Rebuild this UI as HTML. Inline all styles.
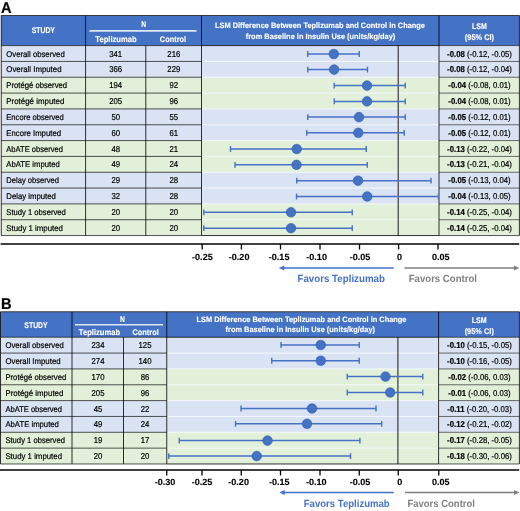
<!DOCTYPE html>
<html lang="en"><head><meta charset="utf-8"><title>Forest plot</title>
<style>
html,body{margin:0;padding:0;background:#fff;}
svg{display:block;font-family:"Liberation Sans", sans-serif;}
text{font-family:"Liberation Sans", sans-serif;}
</style></head>
<body>
<svg width="520" height="511" viewBox="0 0 520 511">
<rect x="0" y="0" width="520" height="511" fill="#ffffff"/>
<rect x="1.25" y="15.50" width="518.15" height="30.10" fill="#4472C4"/>
<rect x="1.25" y="45.60" width="518.15" height="15.88" fill="#DAE3F3"/>
<rect x="1.25" y="61.43" width="518.15" height="15.88" fill="#DAE3F3"/>
<rect x="1.25" y="77.26" width="518.15" height="15.88" fill="#E2F0D9"/>
<rect x="1.25" y="93.09" width="518.15" height="15.88" fill="#E2F0D9"/>
<rect x="1.25" y="108.92" width="518.15" height="15.88" fill="#DAE3F3"/>
<rect x="1.25" y="124.75" width="518.15" height="15.88" fill="#DAE3F3"/>
<rect x="1.25" y="140.58" width="518.15" height="15.88" fill="#E2F0D9"/>
<rect x="1.25" y="156.41" width="518.15" height="15.88" fill="#E2F0D9"/>
<rect x="1.25" y="172.24" width="518.15" height="15.88" fill="#DAE3F3"/>
<rect x="1.25" y="188.07" width="518.15" height="15.88" fill="#DAE3F3"/>
<rect x="1.25" y="203.90" width="518.15" height="15.88" fill="#E2F0D9"/>
<rect x="1.25" y="219.73" width="518.15" height="15.88" fill="#E2F0D9"/>
<line x1="201.50" y1="61.43" x2="439.00" y2="61.43" stroke="#f4f7fb" stroke-width="1.0"/>
<line x1="201.50" y1="77.26" x2="439.00" y2="77.26" stroke="#f4f7fb" stroke-width="1.0"/>
<line x1="201.50" y1="93.09" x2="439.00" y2="93.09" stroke="#f4f7fb" stroke-width="1.0"/>
<line x1="201.50" y1="108.92" x2="439.00" y2="108.92" stroke="#f4f7fb" stroke-width="1.0"/>
<line x1="201.50" y1="124.75" x2="439.00" y2="124.75" stroke="#f4f7fb" stroke-width="1.0"/>
<line x1="201.50" y1="140.58" x2="439.00" y2="140.58" stroke="#f4f7fb" stroke-width="1.0"/>
<line x1="201.50" y1="156.41" x2="439.00" y2="156.41" stroke="#f4f7fb" stroke-width="1.0"/>
<line x1="201.50" y1="172.24" x2="439.00" y2="172.24" stroke="#f4f7fb" stroke-width="1.0"/>
<line x1="201.50" y1="188.07" x2="439.00" y2="188.07" stroke="#f4f7fb" stroke-width="1.0"/>
<line x1="201.50" y1="203.90" x2="439.00" y2="203.90" stroke="#f4f7fb" stroke-width="1.0"/>
<line x1="201.50" y1="219.73" x2="439.00" y2="219.73" stroke="#f4f7fb" stroke-width="1.0"/>
<line x1="398.20" y1="45.60" x2="398.20" y2="235.56" stroke="#2b2b2b" stroke-width="1.1"/>
<line x1="1.25" y1="45.60" x2="201.50" y2="45.60" stroke="#000" stroke-width="0.85" stroke-opacity="0.8"/>
<line x1="439.00" y1="45.60" x2="519.40" y2="45.60" stroke="#000" stroke-width="0.8" stroke-opacity="0.8"/>
<line x1="1.25" y1="61.43" x2="201.50" y2="61.43" stroke="#000" stroke-width="0.85" stroke-opacity="0.8"/>
<line x1="439.00" y1="61.43" x2="519.40" y2="61.43" stroke="#444" stroke-width="0.8"/>
<line x1="1.25" y1="77.26" x2="201.50" y2="77.26" stroke="#000" stroke-width="0.85" stroke-opacity="0.8"/>
<line x1="439.00" y1="77.26" x2="519.40" y2="77.26" stroke="#444" stroke-width="0.8"/>
<line x1="1.25" y1="93.09" x2="201.50" y2="93.09" stroke="#000" stroke-width="0.85" stroke-opacity="0.8"/>
<line x1="439.00" y1="93.09" x2="519.40" y2="93.09" stroke="#444" stroke-width="0.8"/>
<line x1="1.25" y1="108.92" x2="201.50" y2="108.92" stroke="#000" stroke-width="0.85" stroke-opacity="0.8"/>
<line x1="439.00" y1="108.92" x2="519.40" y2="108.92" stroke="#444" stroke-width="0.8"/>
<line x1="1.25" y1="124.75" x2="201.50" y2="124.75" stroke="#000" stroke-width="0.85" stroke-opacity="0.8"/>
<line x1="439.00" y1="124.75" x2="519.40" y2="124.75" stroke="#444" stroke-width="0.8"/>
<line x1="1.25" y1="140.58" x2="201.50" y2="140.58" stroke="#000" stroke-width="0.85" stroke-opacity="0.8"/>
<line x1="439.00" y1="140.58" x2="519.40" y2="140.58" stroke="#444" stroke-width="0.8"/>
<line x1="1.25" y1="156.41" x2="201.50" y2="156.41" stroke="#000" stroke-width="0.85" stroke-opacity="0.8"/>
<line x1="439.00" y1="156.41" x2="519.40" y2="156.41" stroke="#444" stroke-width="0.8"/>
<line x1="1.25" y1="172.24" x2="201.50" y2="172.24" stroke="#000" stroke-width="0.85" stroke-opacity="0.8"/>
<line x1="439.00" y1="172.24" x2="519.40" y2="172.24" stroke="#444" stroke-width="0.8"/>
<line x1="1.25" y1="188.07" x2="201.50" y2="188.07" stroke="#000" stroke-width="0.85" stroke-opacity="0.8"/>
<line x1="439.00" y1="188.07" x2="519.40" y2="188.07" stroke="#444" stroke-width="0.8"/>
<line x1="1.25" y1="203.90" x2="201.50" y2="203.90" stroke="#000" stroke-width="0.85" stroke-opacity="0.8"/>
<line x1="439.00" y1="203.90" x2="519.40" y2="203.90" stroke="#444" stroke-width="0.8"/>
<line x1="1.25" y1="219.73" x2="201.50" y2="219.73" stroke="#000" stroke-width="0.85" stroke-opacity="0.8"/>
<line x1="439.00" y1="219.73" x2="519.40" y2="219.73" stroke="#444" stroke-width="0.8"/>
<line x1="1.25" y1="235.56" x2="201.50" y2="235.56" stroke="#000" stroke-width="0.85" stroke-opacity="0.8"/>
<line x1="439.00" y1="235.56" x2="519.40" y2="235.56" stroke="#000" stroke-width="0.8" stroke-opacity="0.8"/>
<line x1="201.50" y1="45.60" x2="439.00" y2="45.60" stroke="#000" stroke-width="1.0" stroke-opacity="0.8"/>
<line x1="201.50" y1="235.56" x2="439.00" y2="235.56" stroke="#000" stroke-width="1.0" stroke-opacity="0.8"/>
<line x1="1.25" y1="15.50" x2="519.40" y2="15.50" stroke="#3a3a3a" stroke-width="1.0"/>
<line x1="1.25" y1="15.50" x2="1.25" y2="235.56" stroke="#000" stroke-width="1.0" stroke-opacity="0.8"/>
<line x1="85.60" y1="15.50" x2="85.60" y2="235.56" stroke="#000" stroke-width="1.0" stroke-opacity="0.8"/>
<line x1="201.50" y1="15.50" x2="201.50" y2="235.56" stroke="#000" stroke-width="1.0" stroke-opacity="0.8"/>
<line x1="439.00" y1="15.50" x2="439.00" y2="235.56" stroke="#000" stroke-width="1.0" stroke-opacity="0.8"/>
<line x1="519.40" y1="15.50" x2="519.40" y2="235.56" stroke="#000" stroke-width="1.0" stroke-opacity="0.8"/>
<line x1="145.80" y1="45.60" x2="145.80" y2="235.56" stroke="#000" stroke-width="1.0" stroke-opacity="0.8"/>
<line x1="89.40" y1="30.90" x2="196.50" y2="30.90" stroke="#dfe7f5" stroke-width="1.8"/>
<text transform="translate(31.65 33.30) scale(1.0 1.0) skewX(0.06)" font-size="8.2" font-weight="bold" fill="#fff" text-anchor="start" textLength="23.30" lengthAdjust="spacingAndGlyphs" stroke="#fff" stroke-width="0.12">STUDY</text>
<text transform="translate(141.30 26.50) scale(1.0 1.0) skewX(0.06)" font-size="8.2" font-weight="bold" fill="#fff" text-anchor="start" textLength="4.90" lengthAdjust="spacingAndGlyphs" stroke="#fff" stroke-width="0.12">N</text>
<text transform="translate(95.35 42.00) scale(1.0 1.0) skewX(0.06)" font-size="8.2" font-weight="bold" fill="#fff" text-anchor="start" textLength="41.30" lengthAdjust="spacingAndGlyphs" stroke="#fff" stroke-width="0.12">Teplizumab</text>
<text transform="translate(159.85 42.00) scale(1.0 1.0) skewX(0.06)" font-size="8.2" font-weight="bold" fill="#fff" text-anchor="start" textLength="26.30" lengthAdjust="spacingAndGlyphs" stroke="#fff" stroke-width="0.12">Control</text>
<text transform="translate(215.00 28.30) scale(1.0 1.0) skewX(0.06)" font-size="7.8" font-weight="bold" fill="#fff" text-anchor="start" textLength="210.00" lengthAdjust="spacingAndGlyphs" stroke="#fff" stroke-width="0.12">LSM Difference Between Teplizumab and Control in Change</text>
<text transform="translate(245.75 39.40) scale(1.0 1.0) skewX(0.06)" font-size="7.8" font-weight="bold" fill="#fff" text-anchor="start" textLength="149.50" lengthAdjust="spacingAndGlyphs" stroke="#fff" stroke-width="0.12">from Baseline in Insulin Use (units/kg/day)</text>
<text transform="translate(471.95 29.10) scale(1.0 1.0) skewX(0.06)" font-size="8.2" font-weight="bold" fill="#fff" text-anchor="start" textLength="14.90" lengthAdjust="spacingAndGlyphs" stroke="#fff" stroke-width="0.12">LSM</text>
<text transform="translate(464.80 40.00) scale(1.0 1.0) skewX(0.06)" font-size="8.2" font-weight="bold" fill="#fff" text-anchor="start" textLength="29.20" lengthAdjust="spacingAndGlyphs" stroke="#fff" stroke-width="0.12">(95% CI)</text>
<text transform="translate(6.30 56.52) scale(1.0 1.0) skewX(0.06)" font-size="8.3" font-weight="normal" fill="#000" text-anchor="start" textLength="58.40" lengthAdjust="spacingAndGlyphs" stroke="#000" stroke-width="0.2">Overall observed</text>
<text transform="translate(115.70 56.52) scale(0.907 1.0) skewX(0.06)" font-size="8.6" font-weight="normal" fill="#000" text-anchor="middle" stroke="#000" stroke-width="0.2">341</text>
<text transform="translate(173.80 56.52) scale(0.907 1.0) skewX(0.06)" font-size="8.6" font-weight="normal" fill="#000" text-anchor="middle" stroke="#000" stroke-width="0.2">216</text>
<text transform="translate(479.50 56.52) scale(0.907 1) skewX(0.06)" font-size="8.6" text-anchor="middle" fill="#000" stroke="#000" stroke-width="0.2"><tspan font-weight="bold">-0.08</tspan> (-0.12, -0.05)</text>
<line x1="307.75" y1="54.00" x2="359.25" y2="54.00" stroke="#4472C4" stroke-width="1.5"/>
<line x1="307.75" y1="51.10" x2="307.75" y2="56.90" stroke="#4472C4" stroke-width="1.4"/>
<line x1="359.25" y1="51.10" x2="359.25" y2="56.90" stroke="#4472C4" stroke-width="1.4"/>
<circle cx="333.80" cy="54.00" r="4.8" fill="#4472C4" stroke="#2f5aa8" stroke-width="0.6"/>
<text transform="translate(6.30 72.34) scale(1.0 1.0) skewX(0.06)" font-size="8.3" font-weight="normal" fill="#000" text-anchor="start" textLength="55.20" lengthAdjust="spacingAndGlyphs" stroke="#000" stroke-width="0.2">Overall Imputed</text>
<text transform="translate(115.70 72.34) scale(0.907 1.0) skewX(0.06)" font-size="8.6" font-weight="normal" fill="#000" text-anchor="middle" stroke="#000" stroke-width="0.2">366</text>
<text transform="translate(173.80 72.34) scale(0.907 1.0) skewX(0.06)" font-size="8.6" font-weight="normal" fill="#000" text-anchor="middle" stroke="#000" stroke-width="0.2">229</text>
<text transform="translate(479.50 72.34) scale(0.907 1) skewX(0.06)" font-size="8.6" text-anchor="middle" fill="#000" stroke="#000" stroke-width="0.2"><tspan font-weight="bold">-0.08</tspan> (-0.12, -0.04)</text>
<line x1="307.75" y1="69.60" x2="367.50" y2="69.60" stroke="#4472C4" stroke-width="1.5"/>
<line x1="307.75" y1="66.70" x2="307.75" y2="72.50" stroke="#4472C4" stroke-width="1.4"/>
<line x1="367.50" y1="66.70" x2="367.50" y2="72.50" stroke="#4472C4" stroke-width="1.4"/>
<circle cx="334.10" cy="69.60" r="4.8" fill="#4472C4" stroke="#2f5aa8" stroke-width="0.6"/>
<text transform="translate(6.30 88.18) scale(1.0 1.0) skewX(0.06)" font-size="8.3" font-weight="normal" fill="#000" text-anchor="start" textLength="60.80" lengthAdjust="spacingAndGlyphs" stroke="#000" stroke-width="0.2">Protégé observed</text>
<text transform="translate(115.70 88.18) scale(0.907 1.0) skewX(0.06)" font-size="8.6" font-weight="normal" fill="#000" text-anchor="middle" stroke="#000" stroke-width="0.2">194</text>
<text transform="translate(173.80 88.18) scale(0.907 1.0) skewX(0.06)" font-size="8.6" font-weight="normal" fill="#000" text-anchor="middle" stroke="#000" stroke-width="0.2">92</text>
<text transform="translate(479.50 88.18) scale(0.907 1) skewX(0.06)" font-size="8.6" text-anchor="middle" fill="#000" stroke="#000" stroke-width="0.2"><tspan font-weight="bold">-0.04</tspan> (-0.08, 0.01)</text>
<line x1="334.25" y1="85.60" x2="405.25" y2="85.60" stroke="#4472C4" stroke-width="1.5"/>
<line x1="334.25" y1="82.70" x2="334.25" y2="88.50" stroke="#4472C4" stroke-width="1.4"/>
<line x1="405.25" y1="82.70" x2="405.25" y2="88.50" stroke="#4472C4" stroke-width="1.4"/>
<circle cx="367.00" cy="85.60" r="4.8" fill="#4472C4" stroke="#2f5aa8" stroke-width="0.6"/>
<text transform="translate(6.30 104.01) scale(1.0 1.0) skewX(0.06)" font-size="8.3" font-weight="normal" fill="#000" text-anchor="start" textLength="58.00" lengthAdjust="spacingAndGlyphs" stroke="#000" stroke-width="0.2">Protégé imputed</text>
<text transform="translate(115.70 104.01) scale(0.907 1.0) skewX(0.06)" font-size="8.6" font-weight="normal" fill="#000" text-anchor="middle" stroke="#000" stroke-width="0.2">205</text>
<text transform="translate(173.80 104.01) scale(0.907 1.0) skewX(0.06)" font-size="8.6" font-weight="normal" fill="#000" text-anchor="middle" stroke="#000" stroke-width="0.2">96</text>
<text transform="translate(479.50 104.01) scale(0.907 1) skewX(0.06)" font-size="8.6" text-anchor="middle" fill="#000" stroke="#000" stroke-width="0.2"><tspan font-weight="bold">-0.04</tspan> (-0.08, 0.01)</text>
<line x1="334.25" y1="101.40" x2="405.25" y2="101.40" stroke="#4472C4" stroke-width="1.5"/>
<line x1="334.25" y1="98.50" x2="334.25" y2="104.30" stroke="#4472C4" stroke-width="1.4"/>
<line x1="405.25" y1="98.50" x2="405.25" y2="104.30" stroke="#4472C4" stroke-width="1.4"/>
<circle cx="367.00" cy="101.40" r="4.8" fill="#4472C4" stroke="#2f5aa8" stroke-width="0.6"/>
<text transform="translate(6.30 119.84) scale(1.0 1.0) skewX(0.06)" font-size="8.3" font-weight="normal" fill="#000" text-anchor="start" textLength="57.50" lengthAdjust="spacingAndGlyphs" stroke="#000" stroke-width="0.2">Encore observed</text>
<text transform="translate(115.70 119.84) scale(0.907 1.0) skewX(0.06)" font-size="8.6" font-weight="normal" fill="#000" text-anchor="middle" stroke="#000" stroke-width="0.2">50</text>
<text transform="translate(173.80 119.84) scale(0.907 1.0) skewX(0.06)" font-size="8.6" font-weight="normal" fill="#000" text-anchor="middle" stroke="#000" stroke-width="0.2">55</text>
<text transform="translate(479.50 119.84) scale(0.907 1) skewX(0.06)" font-size="8.6" text-anchor="middle" fill="#000" stroke="#000" stroke-width="0.2"><tspan font-weight="bold">-0.05</tspan> (-0.12, 0.01)</text>
<line x1="307.75" y1="117.10" x2="405.25" y2="117.10" stroke="#4472C4" stroke-width="1.5"/>
<line x1="307.75" y1="114.20" x2="307.75" y2="120.00" stroke="#4472C4" stroke-width="1.4"/>
<line x1="405.25" y1="114.20" x2="405.25" y2="120.00" stroke="#4472C4" stroke-width="1.4"/>
<circle cx="359.00" cy="117.10" r="4.8" fill="#4472C4" stroke="#2f5aa8" stroke-width="0.6"/>
<text transform="translate(6.30 135.66) scale(1.0 1.0) skewX(0.06)" font-size="8.3" font-weight="normal" fill="#000" text-anchor="start" textLength="54.70" lengthAdjust="spacingAndGlyphs" stroke="#000" stroke-width="0.2">Encore Imputed</text>
<text transform="translate(115.70 135.66) scale(0.907 1.0) skewX(0.06)" font-size="8.6" font-weight="normal" fill="#000" text-anchor="middle" stroke="#000" stroke-width="0.2">60</text>
<text transform="translate(173.80 135.66) scale(0.907 1.0) skewX(0.06)" font-size="8.6" font-weight="normal" fill="#000" text-anchor="middle" stroke="#000" stroke-width="0.2">61</text>
<text transform="translate(479.50 135.66) scale(0.907 1) skewX(0.06)" font-size="8.6" text-anchor="middle" fill="#000" stroke="#000" stroke-width="0.2"><tspan font-weight="bold">-0.05</tspan> (-0.12, 0.01)</text>
<line x1="306.75" y1="132.80" x2="404.25" y2="132.80" stroke="#4472C4" stroke-width="1.5"/>
<line x1="306.75" y1="129.90" x2="306.75" y2="135.70" stroke="#4472C4" stroke-width="1.4"/>
<line x1="404.25" y1="129.90" x2="404.25" y2="135.70" stroke="#4472C4" stroke-width="1.4"/>
<circle cx="358.25" cy="132.80" r="4.8" fill="#4472C4" stroke="#2f5aa8" stroke-width="0.6"/>
<text transform="translate(6.30 151.50) scale(1.0 1.0) skewX(0.06)" font-size="8.3" font-weight="normal" fill="#000" text-anchor="start" textLength="56.60" lengthAdjust="spacingAndGlyphs" stroke="#000" stroke-width="0.2">AbATE observed</text>
<text transform="translate(115.70 151.50) scale(0.907 1.0) skewX(0.06)" font-size="8.6" font-weight="normal" fill="#000" text-anchor="middle" stroke="#000" stroke-width="0.2">48</text>
<text transform="translate(173.80 151.50) scale(0.907 1.0) skewX(0.06)" font-size="8.6" font-weight="normal" fill="#000" text-anchor="middle" stroke="#000" stroke-width="0.2">21</text>
<text transform="translate(479.50 151.50) scale(0.907 1) skewX(0.06)" font-size="8.6" text-anchor="middle" fill="#000" stroke="#000" stroke-width="0.2"><tspan font-weight="bold">-0.13</tspan> (-0.22, -0.04)</text>
<line x1="230.50" y1="149.00" x2="366.25" y2="149.00" stroke="#4472C4" stroke-width="1.5"/>
<line x1="230.50" y1="146.10" x2="230.50" y2="151.90" stroke="#4472C4" stroke-width="1.4"/>
<line x1="366.25" y1="146.10" x2="366.25" y2="151.90" stroke="#4472C4" stroke-width="1.4"/>
<circle cx="296.75" cy="149.00" r="4.8" fill="#4472C4" stroke="#2f5aa8" stroke-width="0.6"/>
<text transform="translate(6.30 167.32) scale(1.0 1.0) skewX(0.06)" font-size="8.3" font-weight="normal" fill="#000" text-anchor="start" textLength="53.50" lengthAdjust="spacingAndGlyphs" stroke="#000" stroke-width="0.2">AbATE imputed</text>
<text transform="translate(115.70 167.32) scale(0.907 1.0) skewX(0.06)" font-size="8.6" font-weight="normal" fill="#000" text-anchor="middle" stroke="#000" stroke-width="0.2">49</text>
<text transform="translate(173.80 167.32) scale(0.907 1.0) skewX(0.06)" font-size="8.6" font-weight="normal" fill="#000" text-anchor="middle" stroke="#000" stroke-width="0.2">24</text>
<text transform="translate(479.50 167.32) scale(0.907 1) skewX(0.06)" font-size="8.6" text-anchor="middle" fill="#000" stroke="#000" stroke-width="0.2"><tspan font-weight="bold">-0.13</tspan> (-0.21, -0.04)</text>
<line x1="235.00" y1="164.80" x2="367.25" y2="164.80" stroke="#4472C4" stroke-width="1.5"/>
<line x1="235.00" y1="161.90" x2="235.00" y2="167.70" stroke="#4472C4" stroke-width="1.4"/>
<line x1="367.25" y1="161.90" x2="367.25" y2="167.70" stroke="#4472C4" stroke-width="1.4"/>
<circle cx="296.50" cy="164.80" r="4.8" fill="#4472C4" stroke="#2f5aa8" stroke-width="0.6"/>
<text transform="translate(6.30 183.16) scale(1.0 1.0) skewX(0.06)" font-size="8.3" font-weight="normal" fill="#000" text-anchor="start" textLength="52.70" lengthAdjust="spacingAndGlyphs" stroke="#000" stroke-width="0.2">Delay observed</text>
<text transform="translate(115.70 183.16) scale(0.907 1.0) skewX(0.06)" font-size="8.6" font-weight="normal" fill="#000" text-anchor="middle" stroke="#000" stroke-width="0.2">29</text>
<text transform="translate(173.80 183.16) scale(0.907 1.0) skewX(0.06)" font-size="8.6" font-weight="normal" fill="#000" text-anchor="middle" stroke="#000" stroke-width="0.2">28</text>
<text transform="translate(479.50 183.16) scale(0.907 1) skewX(0.06)" font-size="8.6" text-anchor="middle" fill="#000" stroke="#000" stroke-width="0.2"><tspan font-weight="bold">-0.05</tspan> (-0.13, 0.04)</text>
<line x1="296.75" y1="180.70" x2="431.00" y2="180.70" stroke="#4472C4" stroke-width="1.5"/>
<line x1="296.75" y1="177.80" x2="296.75" y2="183.60" stroke="#4472C4" stroke-width="1.4"/>
<line x1="431.00" y1="177.80" x2="431.00" y2="183.60" stroke="#4472C4" stroke-width="1.4"/>
<circle cx="358.00" cy="180.70" r="4.8" fill="#4472C4" stroke="#2f5aa8" stroke-width="0.6"/>
<text transform="translate(6.30 198.98) scale(1.0 1.0) skewX(0.06)" font-size="8.3" font-weight="normal" fill="#000" text-anchor="start" textLength="49.50" lengthAdjust="spacingAndGlyphs" stroke="#000" stroke-width="0.2">Delay imputed</text>
<text transform="translate(115.70 198.98) scale(0.907 1.0) skewX(0.06)" font-size="8.6" font-weight="normal" fill="#000" text-anchor="middle" stroke="#000" stroke-width="0.2">32</text>
<text transform="translate(173.80 198.98) scale(0.907 1.0) skewX(0.06)" font-size="8.6" font-weight="normal" fill="#000" text-anchor="middle" stroke="#000" stroke-width="0.2">28</text>
<text transform="translate(479.50 198.98) scale(0.907 1) skewX(0.06)" font-size="8.6" text-anchor="middle" fill="#000" stroke="#000" stroke-width="0.2"><tspan font-weight="bold">-0.04</tspan> (-0.13, 0.05)</text>
<line x1="296.50" y1="196.50" x2="438.40" y2="196.50" stroke="#4472C4" stroke-width="1.5"/>
<line x1="296.50" y1="193.60" x2="296.50" y2="199.40" stroke="#4472C4" stroke-width="1.4"/>
<line x1="438.10" y1="193.60" x2="438.10" y2="199.40" stroke="#4472C4" stroke-width="0.8"/>
<circle cx="367.25" cy="196.50" r="4.8" fill="#4472C4" stroke="#2f5aa8" stroke-width="0.6"/>
<text transform="translate(6.30 214.81) scale(1.0 1.0) skewX(0.06)" font-size="8.3" font-weight="normal" fill="#000" text-anchor="start" textLength="59.50" lengthAdjust="spacingAndGlyphs" stroke="#000" stroke-width="0.2">Study 1 observed</text>
<text transform="translate(115.70 214.81) scale(0.907 1.0) skewX(0.06)" font-size="8.6" font-weight="normal" fill="#000" text-anchor="middle" stroke="#000" stroke-width="0.2">20</text>
<text transform="translate(173.80 214.81) scale(0.907 1.0) skewX(0.06)" font-size="8.6" font-weight="normal" fill="#000" text-anchor="middle" stroke="#000" stroke-width="0.2">20</text>
<text transform="translate(479.50 214.81) scale(0.907 1) skewX(0.06)" font-size="8.6" text-anchor="middle" fill="#000" stroke="#000" stroke-width="0.2"><tspan font-weight="bold">-0.14</tspan> (-0.25, -0.04)</text>
<line x1="203.75" y1="212.30" x2="352.25" y2="212.30" stroke="#4472C4" stroke-width="1.5"/>
<line x1="203.75" y1="209.40" x2="203.75" y2="215.20" stroke="#4472C4" stroke-width="1.4"/>
<line x1="352.25" y1="209.40" x2="352.25" y2="215.20" stroke="#4472C4" stroke-width="1.4"/>
<circle cx="291.00" cy="212.30" r="4.8" fill="#4472C4" stroke="#2f5aa8" stroke-width="0.6"/>
<text transform="translate(6.30 230.64) scale(1.0 1.0) skewX(0.06)" font-size="8.3" font-weight="normal" fill="#000" text-anchor="start" textLength="56.60" lengthAdjust="spacingAndGlyphs" stroke="#000" stroke-width="0.2">Study 1 imputed</text>
<text transform="translate(115.70 230.64) scale(0.907 1.0) skewX(0.06)" font-size="8.6" font-weight="normal" fill="#000" text-anchor="middle" stroke="#000" stroke-width="0.2">20</text>
<text transform="translate(173.80 230.64) scale(0.907 1.0) skewX(0.06)" font-size="8.6" font-weight="normal" fill="#000" text-anchor="middle" stroke="#000" stroke-width="0.2">20</text>
<text transform="translate(479.50 230.64) scale(0.907 1) skewX(0.06)" font-size="8.6" text-anchor="middle" fill="#000" stroke="#000" stroke-width="0.2"><tspan font-weight="bold">-0.14</tspan> (-0.25, -0.04)</text>
<line x1="203.75" y1="228.20" x2="352.25" y2="228.20" stroke="#4472C4" stroke-width="1.5"/>
<line x1="203.75" y1="225.30" x2="203.75" y2="231.10" stroke="#4472C4" stroke-width="1.4"/>
<line x1="352.25" y1="225.30" x2="352.25" y2="231.10" stroke="#4472C4" stroke-width="1.4"/>
<circle cx="291.00" cy="228.20" r="4.8" fill="#4472C4" stroke="#2f5aa8" stroke-width="0.6"/>
<line x1="0.60" y1="244.00" x2="519.20" y2="244.00" stroke="#000000" stroke-width="1.6"/>
<line x1="202.20" y1="244.00" x2="202.20" y2="249.50" stroke="#000000" stroke-width="1.3"/>
<text transform="translate(202.40 260.30) scale(1.01 1.0) skewX(0.06)" font-size="9.0" font-weight="bold" fill="#000" text-anchor="middle" stroke="#000" stroke-width="0.1">-0.25</text>
<line x1="241.40" y1="244.00" x2="241.40" y2="249.50" stroke="#000000" stroke-width="1.3"/>
<text transform="translate(239.10 260.30) scale(1.01 1.0) skewX(0.06)" font-size="9.0" font-weight="bold" fill="#000" text-anchor="middle" stroke="#000" stroke-width="0.1">-0.20</text>
<line x1="280.50" y1="244.00" x2="280.50" y2="249.50" stroke="#000000" stroke-width="1.3"/>
<text transform="translate(279.10 260.30) scale(1.01 1.0) skewX(0.06)" font-size="9.0" font-weight="bold" fill="#000" text-anchor="middle" stroke="#000" stroke-width="0.1">-0.15</text>
<line x1="320.00" y1="244.00" x2="320.00" y2="249.50" stroke="#000000" stroke-width="1.3"/>
<text transform="translate(316.60 260.30) scale(1.01 1.0) skewX(0.06)" font-size="9.0" font-weight="bold" fill="#000" text-anchor="middle" stroke="#000" stroke-width="0.1">-0.10</text>
<line x1="359.50" y1="244.00" x2="359.50" y2="249.50" stroke="#000000" stroke-width="1.3"/>
<text transform="translate(360.00 260.30) scale(1.01 1.0) skewX(0.06)" font-size="9.0" font-weight="bold" fill="#000" text-anchor="middle" stroke="#000" stroke-width="0.1">-0.05</text>
<line x1="398.60" y1="244.00" x2="398.60" y2="249.50" stroke="#000000" stroke-width="1.3"/>
<text transform="translate(399.50 260.30) scale(1.01 1.0) skewX(0.06)" font-size="9.0" font-weight="bold" fill="#000" text-anchor="middle" stroke="#000" stroke-width="0.1">0</text>
<line x1="438.00" y1="244.00" x2="438.00" y2="249.50" stroke="#000000" stroke-width="1.3"/>
<text transform="translate(440.75 260.30) scale(1.01 1.0) skewX(0.06)" font-size="9.0" font-weight="bold" fill="#000" text-anchor="middle" stroke="#000" stroke-width="0.1">0.05</text>
<line x1="281.75" y1="268.10" x2="393.75" y2="268.10" stroke="#4472C4" stroke-width="1.5"/>
<polygon points="278.75,268.10 284.25,265.60 284.25,270.60" fill="#4472C4"/>
<line x1="404.50" y1="268.10" x2="516.40" y2="268.10" stroke="#7f7f7f" stroke-width="1.5"/>
<polygon points="519.40,268.10 513.90,265.60 513.90,270.60" fill="#7f7f7f"/>
<text transform="translate(297.50 282.20) scale(0.937 1.0) skewX(0.06)" font-size="10.4" font-weight="bold" fill="#4472C4" text-anchor="start">Favors Teplizumab</text>
<text transform="translate(408.75 282.20) scale(0.923 1.0) skewX(0.06)" font-size="10.4" font-weight="bold" fill="#7f7f7f" text-anchor="start">Favors Control</text>
<rect x="0.50" y="311.80" width="518.90" height="25.45" fill="#4472C4"/>
<rect x="0.50" y="337.25" width="518.90" height="15.89" fill="#DAE3F3"/>
<rect x="0.50" y="353.09" width="518.90" height="15.89" fill="#DAE3F3"/>
<rect x="0.50" y="368.93" width="518.90" height="15.89" fill="#E2F0D9"/>
<rect x="0.50" y="384.77" width="518.90" height="15.89" fill="#E2F0D9"/>
<rect x="0.50" y="400.61" width="518.90" height="15.89" fill="#DAE3F3"/>
<rect x="0.50" y="416.45" width="518.90" height="15.89" fill="#DAE3F3"/>
<rect x="0.50" y="432.29" width="518.90" height="15.89" fill="#E2F0D9"/>
<rect x="0.50" y="448.13" width="518.90" height="15.89" fill="#E2F0D9"/>
<line x1="166.75" y1="353.09" x2="438.60" y2="353.09" stroke="#f4f7fb" stroke-width="1.0"/>
<line x1="166.75" y1="368.93" x2="438.60" y2="368.93" stroke="#f4f7fb" stroke-width="1.0"/>
<line x1="166.75" y1="384.77" x2="438.60" y2="384.77" stroke="#f4f7fb" stroke-width="1.0"/>
<line x1="166.75" y1="400.61" x2="438.60" y2="400.61" stroke="#f4f7fb" stroke-width="1.0"/>
<line x1="166.75" y1="416.45" x2="438.60" y2="416.45" stroke="#f4f7fb" stroke-width="1.0"/>
<line x1="166.75" y1="432.29" x2="438.60" y2="432.29" stroke="#f4f7fb" stroke-width="1.0"/>
<line x1="166.75" y1="448.13" x2="438.60" y2="448.13" stroke="#f4f7fb" stroke-width="1.0"/>
<line x1="397.90" y1="337.25" x2="397.90" y2="463.97" stroke="#2b2b2b" stroke-width="1.1"/>
<line x1="0.50" y1="337.25" x2="166.75" y2="337.25" stroke="#000" stroke-width="0.85" stroke-opacity="0.8"/>
<line x1="438.60" y1="337.25" x2="519.40" y2="337.25" stroke="#000" stroke-width="0.8" stroke-opacity="0.8"/>
<line x1="0.50" y1="353.09" x2="166.75" y2="353.09" stroke="#000" stroke-width="0.85" stroke-opacity="0.8"/>
<line x1="438.60" y1="353.09" x2="519.40" y2="353.09" stroke="#444" stroke-width="0.8"/>
<line x1="0.50" y1="368.93" x2="166.75" y2="368.93" stroke="#000" stroke-width="0.85" stroke-opacity="0.8"/>
<line x1="438.60" y1="368.93" x2="519.40" y2="368.93" stroke="#444" stroke-width="0.8"/>
<line x1="0.50" y1="384.77" x2="166.75" y2="384.77" stroke="#000" stroke-width="0.85" stroke-opacity="0.8"/>
<line x1="438.60" y1="384.77" x2="519.40" y2="384.77" stroke="#444" stroke-width="0.8"/>
<line x1="0.50" y1="400.61" x2="166.75" y2="400.61" stroke="#000" stroke-width="0.85" stroke-opacity="0.8"/>
<line x1="438.60" y1="400.61" x2="519.40" y2="400.61" stroke="#444" stroke-width="0.8"/>
<line x1="0.50" y1="416.45" x2="166.75" y2="416.45" stroke="#000" stroke-width="0.85" stroke-opacity="0.8"/>
<line x1="438.60" y1="416.45" x2="519.40" y2="416.45" stroke="#444" stroke-width="0.8"/>
<line x1="0.50" y1="432.29" x2="166.75" y2="432.29" stroke="#000" stroke-width="0.85" stroke-opacity="0.8"/>
<line x1="438.60" y1="432.29" x2="519.40" y2="432.29" stroke="#444" stroke-width="0.8"/>
<line x1="0.50" y1="448.13" x2="166.75" y2="448.13" stroke="#000" stroke-width="0.85" stroke-opacity="0.8"/>
<line x1="438.60" y1="448.13" x2="519.40" y2="448.13" stroke="#444" stroke-width="0.8"/>
<line x1="0.50" y1="463.97" x2="166.75" y2="463.97" stroke="#000" stroke-width="0.85" stroke-opacity="0.8"/>
<line x1="438.60" y1="463.97" x2="519.40" y2="463.97" stroke="#000" stroke-width="0.8" stroke-opacity="0.8"/>
<line x1="166.75" y1="337.25" x2="438.60" y2="337.25" stroke="#000" stroke-width="1.0" stroke-opacity="0.8"/>
<line x1="166.75" y1="463.97" x2="438.60" y2="463.97" stroke="#000" stroke-width="1.0" stroke-opacity="0.8"/>
<line x1="0.50" y1="311.80" x2="519.40" y2="311.80" stroke="#3a3a3a" stroke-width="1.0"/>
<line x1="0.50" y1="311.80" x2="0.50" y2="463.97" stroke="#000" stroke-width="1.0" stroke-opacity="0.8"/>
<line x1="72.00" y1="311.80" x2="72.00" y2="463.97" stroke="#000" stroke-width="1.0" stroke-opacity="0.8"/>
<line x1="166.75" y1="311.80" x2="166.75" y2="463.97" stroke="#000" stroke-width="1.0" stroke-opacity="0.8"/>
<line x1="438.60" y1="311.80" x2="438.60" y2="463.97" stroke="#000" stroke-width="1.0" stroke-opacity="0.8"/>
<line x1="519.40" y1="311.80" x2="519.40" y2="463.97" stroke="#000" stroke-width="1.0" stroke-opacity="0.8"/>
<line x1="123.50" y1="337.25" x2="123.50" y2="463.97" stroke="#000" stroke-width="1.0" stroke-opacity="0.8"/>
<line x1="75.00" y1="324.80" x2="163.00" y2="324.80" stroke="#dfe7f5" stroke-width="1.5"/>
<text transform="translate(24.35 327.70) scale(1.0 1.0) skewX(0.06)" font-size="8.2" font-weight="bold" fill="#fff" text-anchor="start" textLength="23.30" lengthAdjust="spacingAndGlyphs" stroke="#fff" stroke-width="0.12">STUDY</text>
<text transform="translate(120.05 321.60) scale(1.0 1.0) skewX(0.06)" font-size="8.2" font-weight="bold" fill="#fff" text-anchor="start" textLength="4.90" lengthAdjust="spacingAndGlyphs" stroke="#fff" stroke-width="0.12">N</text>
<text transform="translate(78.85 335.10) scale(1.0 1.0) skewX(0.06)" font-size="8.2" font-weight="bold" fill="#fff" text-anchor="start" textLength="41.30" lengthAdjust="spacingAndGlyphs" stroke="#fff" stroke-width="0.12">Teplizumab</text>
<text transform="translate(132.45 335.10) scale(1.0 1.0) skewX(0.06)" font-size="8.2" font-weight="bold" fill="#fff" text-anchor="start" textLength="26.30" lengthAdjust="spacingAndGlyphs" stroke="#fff" stroke-width="0.12">Control</text>
<text transform="translate(196.50 321.60) scale(1.0 1.0) skewX(0.06)" font-size="7.8" font-weight="bold" fill="#fff" text-anchor="start" textLength="210.00" lengthAdjust="spacingAndGlyphs" stroke="#fff" stroke-width="0.12">LSM Difference Between Teplizumab and Control in Change</text>
<text transform="translate(225.55 332.20) scale(1.0 1.0) skewX(0.06)" font-size="7.8" font-weight="bold" fill="#fff" text-anchor="start" textLength="149.50" lengthAdjust="spacingAndGlyphs" stroke="#fff" stroke-width="0.12">from Baseline in Insulin Use (units/kg/day)</text>
<text transform="translate(471.80 322.50) scale(1.0 1.0) skewX(0.06)" font-size="8.2" font-weight="bold" fill="#fff" text-anchor="start" textLength="14.90" lengthAdjust="spacingAndGlyphs" stroke="#fff" stroke-width="0.12">LSM</text>
<text transform="translate(464.65 333.70) scale(1.0 1.0) skewX(0.06)" font-size="8.2" font-weight="bold" fill="#fff" text-anchor="start" textLength="29.20" lengthAdjust="spacingAndGlyphs" stroke="#fff" stroke-width="0.12">(95% CI)</text>
<text transform="translate(5.40 348.17) scale(1.0 1.0) skewX(0.06)" font-size="8.3" font-weight="normal" fill="#000" text-anchor="start" textLength="58.40" lengthAdjust="spacingAndGlyphs" stroke="#000" stroke-width="0.2">Overall observed</text>
<text transform="translate(98.00 348.17) scale(0.907 1.0) skewX(0.06)" font-size="8.6" font-weight="normal" fill="#000" text-anchor="middle" stroke="#000" stroke-width="0.2">234</text>
<text transform="translate(145.00 348.17) scale(0.907 1.0) skewX(0.06)" font-size="8.6" font-weight="normal" fill="#000" text-anchor="middle" stroke="#000" stroke-width="0.2">125</text>
<text transform="translate(479.50 348.17) scale(0.907 1) skewX(0.06)" font-size="8.6" text-anchor="middle" fill="#000" stroke="#000" stroke-width="0.2"><tspan font-weight="bold">-0.10</tspan> (-0.15, -0.05)</text>
<line x1="281.00" y1="345.00" x2="359.25" y2="345.00" stroke="#4472C4" stroke-width="1.5"/>
<line x1="281.00" y1="342.10" x2="281.00" y2="347.90" stroke="#4472C4" stroke-width="1.4"/>
<line x1="359.25" y1="342.10" x2="359.25" y2="347.90" stroke="#4472C4" stroke-width="1.4"/>
<circle cx="320.75" cy="345.00" r="4.8" fill="#4472C4" stroke="#2f5aa8" stroke-width="0.6"/>
<text transform="translate(5.40 364.01) scale(1.0 1.0) skewX(0.06)" font-size="8.3" font-weight="normal" fill="#000" text-anchor="start" textLength="55.20" lengthAdjust="spacingAndGlyphs" stroke="#000" stroke-width="0.2">Overall Imputed</text>
<text transform="translate(98.00 364.01) scale(0.907 1.0) skewX(0.06)" font-size="8.6" font-weight="normal" fill="#000" text-anchor="middle" stroke="#000" stroke-width="0.2">274</text>
<text transform="translate(145.00 364.01) scale(0.907 1.0) skewX(0.06)" font-size="8.6" font-weight="normal" fill="#000" text-anchor="middle" stroke="#000" stroke-width="0.2">140</text>
<text transform="translate(479.50 364.01) scale(0.907 1) skewX(0.06)" font-size="8.6" text-anchor="middle" fill="#000" stroke="#000" stroke-width="0.2"><tspan font-weight="bold">-0.10</tspan> (-0.16, -0.05)</text>
<line x1="271.75" y1="360.75" x2="359.25" y2="360.75" stroke="#4472C4" stroke-width="1.5"/>
<line x1="271.75" y1="357.85" x2="271.75" y2="363.65" stroke="#4472C4" stroke-width="1.4"/>
<line x1="359.25" y1="357.85" x2="359.25" y2="363.65" stroke="#4472C4" stroke-width="1.4"/>
<circle cx="320.75" cy="360.75" r="4.8" fill="#4472C4" stroke="#2f5aa8" stroke-width="0.6"/>
<text transform="translate(5.40 379.85) scale(1.0 1.0) skewX(0.06)" font-size="8.3" font-weight="normal" fill="#000" text-anchor="start" textLength="60.80" lengthAdjust="spacingAndGlyphs" stroke="#000" stroke-width="0.2">Protégé observed</text>
<text transform="translate(98.00 379.85) scale(0.907 1.0) skewX(0.06)" font-size="8.6" font-weight="normal" fill="#000" text-anchor="middle" stroke="#000" stroke-width="0.2">170</text>
<text transform="translate(145.00 379.85) scale(0.907 1.0) skewX(0.06)" font-size="8.6" font-weight="normal" fill="#000" text-anchor="middle" stroke="#000" stroke-width="0.2">86</text>
<text transform="translate(479.50 379.85) scale(0.907 1) skewX(0.06)" font-size="8.6" text-anchor="middle" fill="#000" stroke="#000" stroke-width="0.2"><tspan font-weight="bold">-0.02</tspan> (-0.06, 0.03)</text>
<line x1="347.25" y1="376.60" x2="422.80" y2="376.60" stroke="#4472C4" stroke-width="1.5"/>
<line x1="347.25" y1="373.70" x2="347.25" y2="379.50" stroke="#4472C4" stroke-width="1.4"/>
<line x1="422.80" y1="373.70" x2="422.80" y2="379.50" stroke="#4472C4" stroke-width="1.4"/>
<circle cx="385.50" cy="376.60" r="4.8" fill="#4472C4" stroke="#2f5aa8" stroke-width="0.6"/>
<text transform="translate(5.40 395.69) scale(1.0 1.0) skewX(0.06)" font-size="8.3" font-weight="normal" fill="#000" text-anchor="start" textLength="58.00" lengthAdjust="spacingAndGlyphs" stroke="#000" stroke-width="0.2">Protégé imputed</text>
<text transform="translate(98.00 395.69) scale(0.907 1.0) skewX(0.06)" font-size="8.6" font-weight="normal" fill="#000" text-anchor="middle" stroke="#000" stroke-width="0.2">205</text>
<text transform="translate(145.00 395.69) scale(0.907 1.0) skewX(0.06)" font-size="8.6" font-weight="normal" fill="#000" text-anchor="middle" stroke="#000" stroke-width="0.2">96</text>
<text transform="translate(479.50 395.69) scale(0.907 1) skewX(0.06)" font-size="8.6" text-anchor="middle" fill="#000" stroke="#000" stroke-width="0.2"><tspan font-weight="bold">-0.01</tspan> (-0.06, 0.03)</text>
<line x1="347.25" y1="392.50" x2="422.80" y2="392.50" stroke="#4472C4" stroke-width="1.5"/>
<line x1="347.25" y1="389.60" x2="347.25" y2="395.40" stroke="#4472C4" stroke-width="1.4"/>
<line x1="422.80" y1="389.60" x2="422.80" y2="395.40" stroke="#4472C4" stroke-width="1.4"/>
<circle cx="390.25" cy="392.50" r="4.8" fill="#4472C4" stroke="#2f5aa8" stroke-width="0.6"/>
<text transform="translate(5.40 411.53) scale(1.0 1.0) skewX(0.06)" font-size="8.3" font-weight="normal" fill="#000" text-anchor="start" textLength="56.60" lengthAdjust="spacingAndGlyphs" stroke="#000" stroke-width="0.2">AbATE observed</text>
<text transform="translate(98.00 411.53) scale(0.907 1.0) skewX(0.06)" font-size="8.6" font-weight="normal" fill="#000" text-anchor="middle" stroke="#000" stroke-width="0.2">45</text>
<text transform="translate(145.00 411.53) scale(0.907 1.0) skewX(0.06)" font-size="8.6" font-weight="normal" fill="#000" text-anchor="middle" stroke="#000" stroke-width="0.2">22</text>
<text transform="translate(479.50 411.53) scale(0.907 1) skewX(0.06)" font-size="8.6" text-anchor="middle" fill="#000" stroke="#000" stroke-width="0.2"><tspan font-weight="bold">-0.11</tspan> (-0.20, -0.03)</text>
<line x1="241.00" y1="408.50" x2="376.00" y2="408.50" stroke="#4472C4" stroke-width="1.5"/>
<line x1="241.00" y1="405.60" x2="241.00" y2="411.40" stroke="#4472C4" stroke-width="1.4"/>
<line x1="376.00" y1="405.60" x2="376.00" y2="411.40" stroke="#4472C4" stroke-width="1.4"/>
<circle cx="312.00" cy="408.50" r="4.8" fill="#4472C4" stroke="#2f5aa8" stroke-width="0.6"/>
<text transform="translate(5.40 427.37) scale(1.0 1.0) skewX(0.06)" font-size="8.3" font-weight="normal" fill="#000" text-anchor="start" textLength="53.50" lengthAdjust="spacingAndGlyphs" stroke="#000" stroke-width="0.2">AbATE imputed</text>
<text transform="translate(98.00 427.37) scale(0.907 1.0) skewX(0.06)" font-size="8.6" font-weight="normal" fill="#000" text-anchor="middle" stroke="#000" stroke-width="0.2">49</text>
<text transform="translate(145.00 427.37) scale(0.907 1.0) skewX(0.06)" font-size="8.6" font-weight="normal" fill="#000" text-anchor="middle" stroke="#000" stroke-width="0.2">24</text>
<text transform="translate(479.50 427.37) scale(0.907 1) skewX(0.06)" font-size="8.6" text-anchor="middle" fill="#000" stroke="#000" stroke-width="0.2"><tspan font-weight="bold">-0.12</tspan> (-0.21, -0.02)</text>
<line x1="235.50" y1="423.80" x2="381.70" y2="423.80" stroke="#4472C4" stroke-width="1.5"/>
<line x1="235.50" y1="420.90" x2="235.50" y2="426.70" stroke="#4472C4" stroke-width="1.4"/>
<line x1="381.70" y1="420.90" x2="381.70" y2="426.70" stroke="#4472C4" stroke-width="1.4"/>
<circle cx="307.00" cy="423.80" r="4.8" fill="#4472C4" stroke="#2f5aa8" stroke-width="0.6"/>
<text transform="translate(5.40 443.21) scale(1.0 1.0) skewX(0.06)" font-size="8.3" font-weight="normal" fill="#000" text-anchor="start" textLength="59.50" lengthAdjust="spacingAndGlyphs" stroke="#000" stroke-width="0.2">Study 1 observed</text>
<text transform="translate(98.00 443.21) scale(0.907 1.0) skewX(0.06)" font-size="8.6" font-weight="normal" fill="#000" text-anchor="middle" stroke="#000" stroke-width="0.2">19</text>
<text transform="translate(145.00 443.21) scale(0.907 1.0) skewX(0.06)" font-size="8.6" font-weight="normal" fill="#000" text-anchor="middle" stroke="#000" stroke-width="0.2">17</text>
<text transform="translate(479.50 443.21) scale(0.907 1) skewX(0.06)" font-size="8.6" text-anchor="middle" fill="#000" stroke="#000" stroke-width="0.2"><tspan font-weight="bold">-0.17</tspan> (-0.28, -0.05)</text>
<line x1="179.25" y1="440.60" x2="359.90" y2="440.60" stroke="#4472C4" stroke-width="1.5"/>
<line x1="179.25" y1="437.70" x2="179.25" y2="443.50" stroke="#4472C4" stroke-width="1.4"/>
<line x1="359.90" y1="437.70" x2="359.90" y2="443.50" stroke="#4472C4" stroke-width="1.4"/>
<circle cx="267.50" cy="440.60" r="4.8" fill="#4472C4" stroke="#2f5aa8" stroke-width="0.6"/>
<text transform="translate(5.40 459.05) scale(1.0 1.0) skewX(0.06)" font-size="8.3" font-weight="normal" fill="#000" text-anchor="start" textLength="56.60" lengthAdjust="spacingAndGlyphs" stroke="#000" stroke-width="0.2">Study 1 imputed</text>
<text transform="translate(98.00 459.05) scale(0.907 1.0) skewX(0.06)" font-size="8.6" font-weight="normal" fill="#000" text-anchor="middle" stroke="#000" stroke-width="0.2">20</text>
<text transform="translate(145.00 459.05) scale(0.907 1.0) skewX(0.06)" font-size="8.6" font-weight="normal" fill="#000" text-anchor="middle" stroke="#000" stroke-width="0.2">20</text>
<text transform="translate(479.50 459.05) scale(0.907 1) skewX(0.06)" font-size="8.6" text-anchor="middle" fill="#000" stroke="#000" stroke-width="0.2"><tspan font-weight="bold">-0.18</tspan> (-0.30, -0.06)</text>
<line x1="168.75" y1="456.10" x2="350.50" y2="456.10" stroke="#4472C4" stroke-width="1.5"/>
<line x1="168.75" y1="453.20" x2="168.75" y2="459.00" stroke="#4472C4" stroke-width="1.4"/>
<line x1="350.50" y1="453.20" x2="350.50" y2="459.00" stroke="#4472C4" stroke-width="1.4"/>
<circle cx="256.75" cy="456.10" r="4.8" fill="#4472C4" stroke="#2f5aa8" stroke-width="0.6"/>
<line x1="0.00" y1="470.00" x2="519.20" y2="470.00" stroke="#000000" stroke-width="1.6"/>
<line x1="166.75" y1="470.00" x2="166.75" y2="475.50" stroke="#000000" stroke-width="1.3"/>
<text transform="translate(165.00 485.20) scale(1.01 1.0) skewX(0.06)" font-size="9.0" font-weight="bold" fill="#000" text-anchor="middle" stroke="#000" stroke-width="0.1">-0.30</text>
<line x1="202.00" y1="470.00" x2="202.00" y2="475.50" stroke="#000000" stroke-width="1.3"/>
<text transform="translate(202.00 485.20) scale(1.01 1.0) skewX(0.06)" font-size="9.0" font-weight="bold" fill="#000" text-anchor="middle" stroke="#000" stroke-width="0.1">-0.25</text>
<line x1="241.25" y1="470.00" x2="241.25" y2="475.50" stroke="#000000" stroke-width="1.3"/>
<text transform="translate(238.60 485.20) scale(1.01 1.0) skewX(0.06)" font-size="9.0" font-weight="bold" fill="#000" text-anchor="middle" stroke="#000" stroke-width="0.1">-0.20</text>
<line x1="280.50" y1="470.00" x2="280.50" y2="475.50" stroke="#000000" stroke-width="1.3"/>
<text transform="translate(279.30 485.20) scale(1.01 1.0) skewX(0.06)" font-size="9.0" font-weight="bold" fill="#000" text-anchor="middle" stroke="#000" stroke-width="0.1">-0.15</text>
<line x1="320.00" y1="470.00" x2="320.00" y2="475.50" stroke="#000000" stroke-width="1.3"/>
<text transform="translate(316.30 485.20) scale(1.01 1.0) skewX(0.06)" font-size="9.0" font-weight="bold" fill="#000" text-anchor="middle" stroke="#000" stroke-width="0.1">-0.10</text>
<line x1="359.25" y1="470.00" x2="359.25" y2="475.50" stroke="#000000" stroke-width="1.3"/>
<text transform="translate(360.00 485.20) scale(1.01 1.0) skewX(0.06)" font-size="9.0" font-weight="bold" fill="#000" text-anchor="middle" stroke="#000" stroke-width="0.1">-0.05</text>
<line x1="398.25" y1="470.00" x2="398.25" y2="475.50" stroke="#000000" stroke-width="1.3"/>
<text transform="translate(399.75 485.20) scale(1.01 1.0) skewX(0.06)" font-size="9.0" font-weight="bold" fill="#000" text-anchor="middle" stroke="#000" stroke-width="0.1">0</text>
<line x1="438.75" y1="470.00" x2="438.75" y2="475.50" stroke="#000000" stroke-width="1.3"/>
<text transform="translate(440.75 485.20) scale(1.01 1.0) skewX(0.06)" font-size="9.0" font-weight="bold" fill="#000" text-anchor="middle" stroke="#000" stroke-width="0.1">0.05</text>
<line x1="282.25" y1="492.50" x2="393.75" y2="492.50" stroke="#4472C4" stroke-width="1.5"/>
<polygon points="279.25,492.50 284.75,490.00 284.75,495.00" fill="#4472C4"/>
<line x1="405.00" y1="492.50" x2="516.50" y2="492.50" stroke="#7f7f7f" stroke-width="1.5"/>
<polygon points="519.50,492.50 514.00,490.00 514.00,495.00" fill="#7f7f7f"/>
<text transform="translate(303.75 507.20) scale(0.921 1.0) skewX(0.06)" font-size="10.4" font-weight="bold" fill="#4472C4" text-anchor="start">Favors Teplizumab</text>
<text transform="translate(407.50 507.20) scale(0.913 1.0) skewX(0.06)" font-size="10.4" font-weight="bold" fill="#7f7f7f" text-anchor="start">Favors Control</text>
<text transform="translate(1.10 12.60) scale(0.94 1.0) skewX(0.06)" font-size="15.6" font-weight="bold" fill="#000" text-anchor="start" stroke="#000" stroke-width="0.2">A</text>
<text transform="translate(1.00 308.70) scale(0.95 1.0) skewX(0.06)" font-size="15.5" font-weight="bold" fill="#000" text-anchor="start" stroke="#000" stroke-width="0.2">B</text>
</svg>
</body></html>
